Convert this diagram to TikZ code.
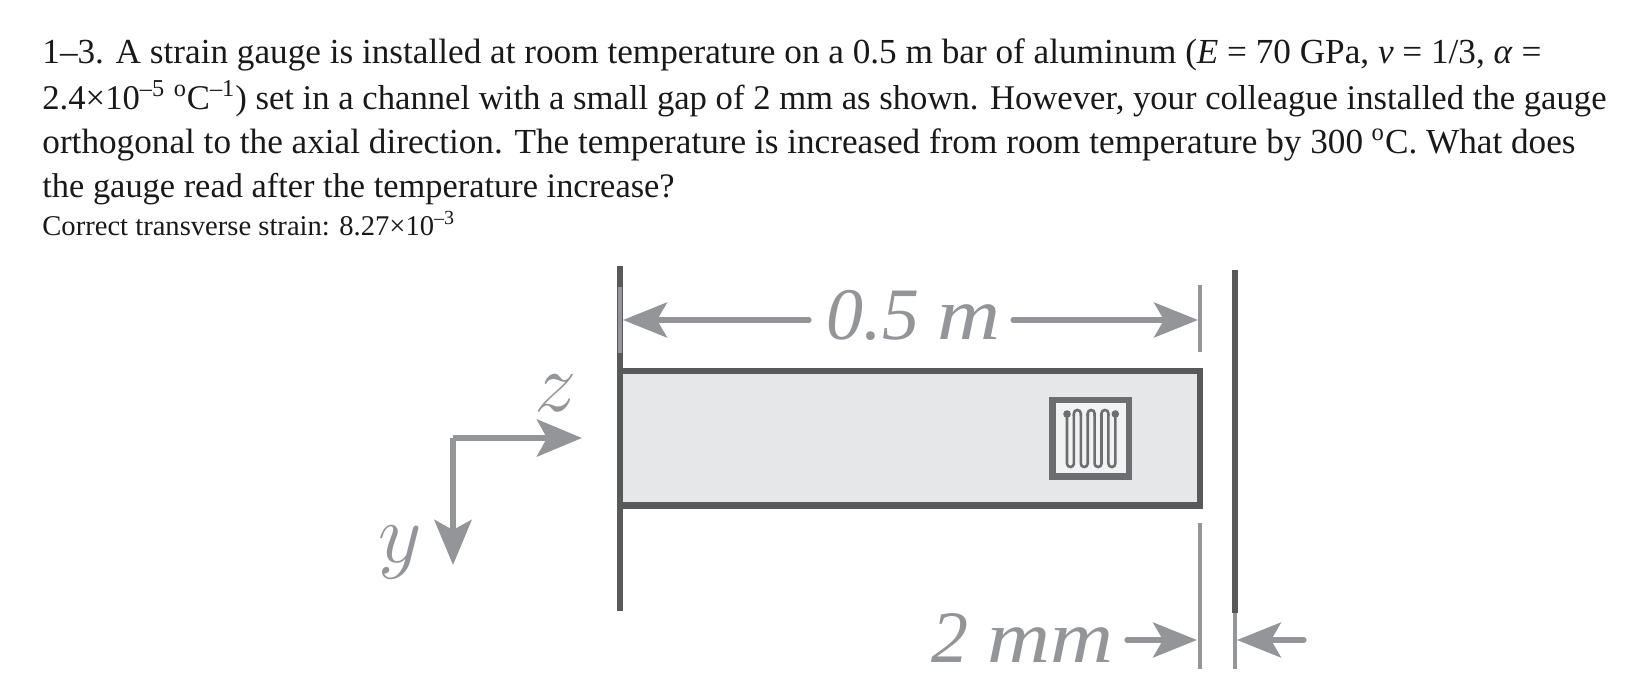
\documentclass[tikz,border=0pt]{standalone}
\usepackage{fontspec}
\setmainfont{Liberation Serif}
\usetikzlibrary{arrows.meta}
\definecolor{wallgray}{HTML}{58595B}
\definecolor{dimgray}{HTML}{939598}
\definecolor{bargray}{HTML}{E6E7E8}
\definecolor{gaugegray}{HTML}{6D6E71}
\definecolor{padgray}{HTML}{F1F2F2}
\newcommand{\wideM}{\scalebox{1.18}[1]{m}}
\tikzset{
  prose/.style={anchor=base west,inner sep=0pt,text=black!90,font=\fontsize{#1}{20}\selectfont},
  wall/.style={draw=wallgray,line width=3.25pt},
  thin/.style={draw=dimgray,line width=1.6pt},
  dim/.style={draw=dimgray,line width=2.6pt,line cap=round,-{Stealth[length=22pt,width=17.5pt,inset=5pt]}},
  axis/.style={draw=dimgray,line width=3.25pt,-{Stealth[length=22.5pt,width=18.5pt,inset=5pt]}},
  dimtext/.style={inner sep=0pt,text=dimgray,font=\fontsize{37}{42}\selectfont\itshape},
  axistext/.style={inner sep=0pt,text=dimgray,font=\fontsize{24}{28}\selectfont},
  wire/.style={draw=gaugegray,line width=1.3pt},
}
\begin{document}
\begin{tikzpicture}[x=0.5pt,y=-0.5pt]
  \useasboundingbox (0,0) rectangle (1650,696);
  % problem text
  \node[prose=17.6] (l1) at (42,63) {1–3. A strain gauge is installed at room temperature on a 0.5 m bar of aluminum (\textit{E} = 70 GPa, \textit{ν} = 1/3, \textit{α} =};
  \node[prose=17.33] (l2) at (42,109) {2.4×10\textsuperscript{–5} \textsuperscript{o}C\textsuperscript{–1}) set in a channel with a small gap of 2 mm as shown. However, your colleague installed the gauge};
  \node[prose=17.6] (l3) at (42,153) {orthogonal to the axial direction. The temperature is increased from room temperature by 300 \textsuperscript{o}C. What does};
  \node[prose=17.2] (l4) at (42,197) {the gauge read after the temperature increase?};
  \node[prose=14.3] (l5) at (42,235) {Correct transverse strain: 8.27×10\textsuperscript{–3}};
  % bar
  \node[draw=wallgray,fill=bargray,line width=3.25pt,minimum width=290pt,minimum height=67.25pt,inner sep=0pt] (bar) at (910,438) {};
  % channel walls
  \coordinate (wlt) at (620,266);
  \coordinate (wlb) at (620,611);
  \coordinate (wrt) at (1235,270);
  \coordinate (wrb) at (1235,613);
  \draw[wall] (wlt) -- (wlb);
  \draw[wall] (wrt) -- (wrb);
  % extension lines
  \coordinate (etl) at (620,287);
  \coordinate (ebl) at (620,353);
  \coordinate (etr) at (1200,285);
  \coordinate (ebr) at (1200,352);
  \coordinate (gl) at (1200,523);
  \coordinate (gm) at (1200,669);
  \coordinate (gr) at (1235,669);
  \draw[thin] (etl) -- (ebl);
  \draw[thin] (etr) -- (ebr);
  \draw[thin] (gl) -- (gm);
  \draw[thin] (wrb) -- (gr);
  % length dimension
  \node[dimtext] (len) at (914,315) {0.5 \wideM};
  \coordinate (lenl) at (809,320);
  \coordinate (lena) at (623,320);
  \coordinate (lenr) at (1013,320);
  \coordinate (lenb) at (1198,320);
  \draw[dim] (lenl) -- (lena);
  \draw[dim] (lenr) -- (lenb);
  % gap dimension
  \node[dimtext,anchor=base east] (gap) at (1114,662) {2 \wideM\wideM};
  \coordinate (gapa) at (1127,640);
  \coordinate (gapb) at (1197,640);
  \coordinate (gapc) at (1304,640);
  \coordinate (gapd) at (1237,640);
  \draw[dim] (gapa) -- (gapb);
  \draw[dim] (gapc) -- (gapd);
  % axes
  \coordinate (orig) at (453,438);
  \coordinate (zend) at (582,438);
  \coordinate (yend) at (453,565);
  \draw[axis] (orig) -- (zend);
  \draw[axis] (orig) -- (yend);
  \node[axistext] (zlab) at (556,393) {\scalebox{1.7}{$z$}};
  \node[axistext] (ylab) at (400,553) {\scalebox{1.7}{$y$}};
  % gauge
  \node[draw=gaugegray,fill=padgray,line width=3.25pt,minimum size=38.25pt,inner sep=0pt] (gauge) at (1090.5,438) {};
  \foreach \i in {0,1,2,3} {
    \draw[wire,rounded corners=1.7pt] (1067+\i*13.8,414) -- (1067+\i*13.8,467) -- (1073.9+\i*13.8,467) -- (1073.9+\i*13.8,414);
  }
  \foreach \i in {0,1,2} {
    \draw[wire,rounded corners=1.7pt] (1073.9+\i*13.8,416) -- (1073.9+\i*13.8,410) -- (1080.8+\i*13.8,410) -- (1080.8+\i*13.8,416);
  }
  \fill[gaugegray] (1067,414) circle[radius=1.9pt] (1115.3,414) circle[radius=1.9pt];
\end{tikzpicture}
\end{document}
